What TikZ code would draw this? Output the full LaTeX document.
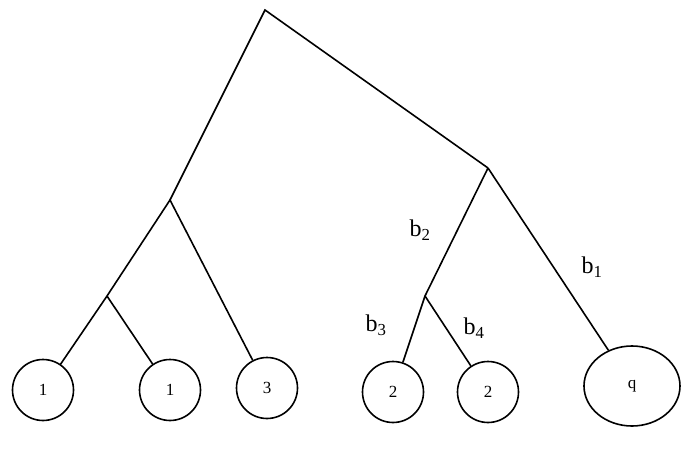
\documentclass[tikz,border=0pt]{standalone}
\usepackage{fontspec}
\setmainfont{Liberation Serif}
\usetikzlibrary{shapes.geometric}
\begin{document}
\begin{tikzpicture}[x=1pt,y=-1pt,line width=1.6pt,
  leaf/.style={draw,circle,minimum size=61pt,inner sep=0pt,font=\fontsize{17}{17}\selectfont},
  lbl/.style={font=\fontsize{24}{24}\selectfont}]
\useasboundingbox (0,0) rectangle (694,460);
\coordinate (r) at (265,10);
\coordinate (a) at (488,168);
\coordinate (l) at (170,200);
\coordinate (ll) at (107,296);
\coordinate (m) at (425,296);
\node[leaf] (n1) at (43,390) {1};
\node[leaf] (n2) at (170,390) {1};
\node[leaf] (n3) at (267,388) {3};
\node[leaf] (n4) at (393,392) {2};
\node[leaf] (n5) at (488,392) {2};
\node[draw,ellipse,minimum width=96pt,minimum height=80pt,inner sep=0pt,font=\fontsize{17}{17}\selectfont] (q) at (632,386) {q};
\draw (l) -- (r) -- (a);
\draw (n1) -- (ll) -- (l) -- (n3);
\draw (ll) -- (n2);
\draw (a) -- (m) -- (n4);
\draw (m) -- (n5);
\draw (a) -- (q);
\node[lbl] (b2) at (420,230) {b\textsubscript{2}};
\node[lbl] (b1) at (592,267) {b\textsubscript{1}};
\node[lbl] (b3) at (376,325) {b\textsubscript{3}};
\node[lbl] (b4) at (474,328) {b\textsubscript{4}};
\end{tikzpicture}
\end{document}
